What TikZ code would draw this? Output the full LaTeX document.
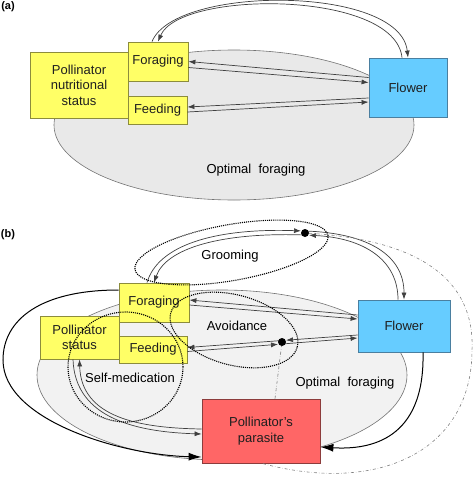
\documentclass[tikz,border=0pt]{standalone}
\usepackage{fontspec}
\setmainfont{Liberation Sans}
\usetikzlibrary{shapes,arrows.meta,positioning,calc}

\definecolor{yellowbox}{HTML}{FFFF66}
\definecolor{yellowedge}{HTML}{8C8C3C}
\definecolor{bluebox}{HTML}{66CCFF}
\definecolor{blueedge}{HTML}{4A7FA0}
\definecolor{redbox}{HTML}{FF6666}
\definecolor{rededge}{HTML}{8C3C3C}
\definecolor{fieldA}{HTML}{E9E9E9}
\definecolor{fieldB}{HTML}{F2F2F2}

\begin{document}
\begin{tikzpicture}[x=1pt, y=-1pt,
    font=\fontsize{13}{15.5}\selectfont,
    box/.style={draw, line width=0.8pt, inner sep=0pt, align=center, text=black!88},
    pollen/.style={box, fill=yellowbox, draw=yellowedge},
    bloom/.style={box, fill=bluebox, draw=blueedge},
    pest/.style={box, fill=redbox, draw=rededge},
    field/.style={draw=black!55, line width=0.6pt, ellipse, inner sep=0pt},
    ring/.style={draw, ellipse, densely dotted, line width=1.1pt, inner sep=0pt},
    link/.style={-{Latex[length=7pt,width=5pt]}, draw=black!75, line width=0.7pt},
    bold/.style={-{Latex[length=13pt,width=8pt]}, black, line width=1pt},
    modline/.style={draw=black!50, dash dot, line width=0.6pt},
    hub/.style={circle, fill=black, inner sep=0pt, minimum size=8pt},
    panel/.style={font=\fontsize{11}{13}\selectfont\bfseries}
]
\useasboundingbox (0,0) rectangle (474,482);

% (a) optimal foraging only
\node[panel] (labA) at (8,7) {(a)};
\node[field, fill=fieldA, minimum width=360pt, minimum height=150pt] (optA) at (234,125) {};
\node (optAtext) at (256,170) {Optimal\ \ foraging};
\node[pollen, minimum width=98pt, minimum height=66pt] (nutriA) at (79,85) {Pollinator\\nutritional\\status};
\node[pollen, minimum width=60pt, minimum height=39pt] (foragA) at (158,61.5) {Foraging};
\node[pollen, minimum width=59pt, minimum height=28pt] (feedA) at (157.5,110) {Feeding};
\node[bloom, minimum width=78pt, minimum height=59pt] (flowerA) at (408,87.5) {Flower};

\draw[link] ([yshift=10pt]flowerA.west) -- (foragA.east);
\draw[link] ([yshift=-6pt]foragA.east) -- ([yshift=5pt]flowerA.west);
\draw[link] ([yshift=-10.5pt]flowerA.west) -- ([yshift=3pt]feedA.east);
\draw[link] ([yshift=-2pt]feedA.east) -- ([yshift=-14.5pt]flowerA.west);
\draw[link] ([xshift=-6pt]foragA.north) .. controls (175,-15) and (400,-15) .. (flowerA.north);
\draw[link] ([xshift=-6pt]flowerA.north) .. controls (395,-10) and (180,-10) .. (foragA.north);

% (b) with the parasite
\node[panel] (labB) at (8,235) {(b)};
\node[field, fill=fieldB, minimum width=370pt, minimum height=170pt] (optB) at (222,375) {};
\node (optBtext) at (345,383) {Optimal\ \ foraging};
\node[pollen, minimum width=79pt, minimum height=43pt] (statusB) at (79.5,337.5) {Pollinator\\status};
\node[pollen, minimum width=70pt, minimum height=39pt] (foragB) at (154,302.5) {Foraging};
\node[pollen, minimum width=68pt, minimum height=27pt] (feedB) at (153,349.5) {Feeding};
\node[bloom, minimum width=92pt, minimum height=52pt] (flowerB) at (404,326) {Flower};
\node[pest, minimum width=118pt, minimum height=64pt] (parasite) at (261,431) {Pollinator's\\parasite};

% foraging and feeding links
\draw[link] ([yshift=11pt]flowerB.west) -- ([yshift=2.5pt]foragB.east);
\draw[link] ([yshift=-2.5pt]foragB.east) -- ([yshift=7pt]flowerB.west);
\coordinate (feedLow) at (282,344);
\coordinate (feedUp) at (282,340.5);
\draw[link, shorten >=4pt] ([yshift=-2pt]feedB.east) -- (feedLow);
\draw[link] (feedLow) -- ([yshift=-12pt]flowerB.west);
\draw[link, shorten >=4pt] ([yshift=-9pt]flowerB.west) -- (feedUp);
\draw[link] (feedUp) -- ([yshift=2pt]feedB.east);

% grooming arc
\coordinate (groomOut) at (305,231);
\coordinate (groomIn) at (305,235);
\draw[link, shorten >=4pt] ([xshift=-7pt]foragB.north) .. controls (158,245) and (215,228) .. (groomOut);
\draw[link] (groomOut) .. controls (368,233) and (404,255) .. (flowerB.north);
\draw[link, shorten >=4pt] ([xshift=-6pt]flowerB.north) .. controls (398,260) and (364,238) .. (groomIn);
\draw[link] (groomIn) .. controls (222,232) and (166,248) .. (foragB.north);

% status and parasite
\draw[link] ([xshift=-6.5pt]statusB.south) .. controls (75,420) and (140,432) .. ([yshift=-3pt]parasite.west);
\draw[link] ([yshift=2pt]parasite.west) .. controls (140,428) and (81,418) .. (statusB.south);
\draw[bold] ([yshift=12.5pt]foragB.west) .. controls (40,290) and (3,320) .. (3,360) .. controls (3,420) and (120,455) .. ([yshift=-26pt]parasite.west);
\draw[bold] ([xshift=19pt]flowerB.south) .. controls (425,440) and (370,450) .. ([yshift=-16pt]parasite.east);

% behaviours
\node[ring, minimum width=196pt, minimum height=56pt, rotate=10] (groomRing) at (231.5,252.5) {};
\node (groomText) at (230,256) {Grooming};
\node[ring, minimum width=131pt, minimum height=70pt, rotate=-15] (avoidRing) at (234,330) {};
\node (avoidText) at (237,326) {Avoidance};
\node[ring, minimum width=115pt, minimum height=110pt] (medRing) at (125.5,367) {};
\node (medText) at (130,378) {Self-medication};

% parasite effects
\node[hub] (hubFeed) at (282,342) {};
\node[hub] (hubGroom) at (305,233) {};
\draw[modline] ([xshift=14pt]parasite.north) -- (hubFeed);
\draw[modline] (hubGroom) .. controls (420,240) and (475,280) .. (472,350) .. controls (472,450) and (380,495) .. ([xshift=1pt]parasite.south);

\end{tikzpicture}
\end{document}
